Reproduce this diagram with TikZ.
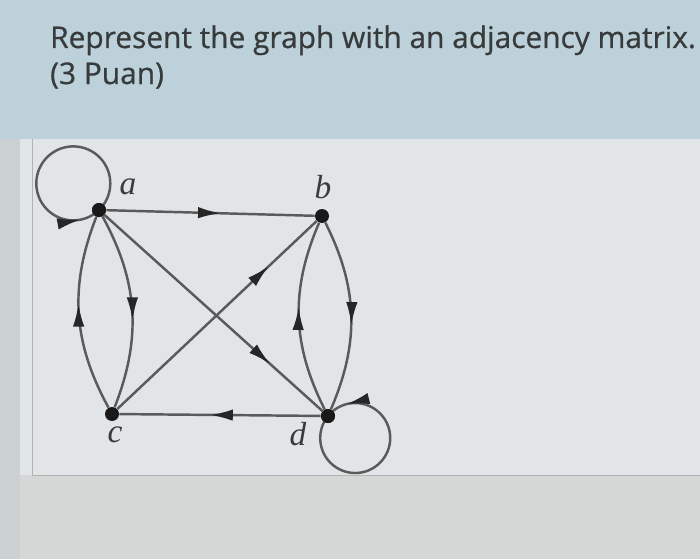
\documentclass[tikz,border=0pt]{standalone}
\usepackage{fontspec}
\setmainfont{Open Sans}
\newfontfamily\titlefont[FakeBold=0.7]{Open Sans}
\newfontfamily\labelfont{Liberation Serif}
\usetikzlibrary{arrows.meta, decorations.markings}

\definecolor{headblue}{HTML}{BCD1D9}
\definecolor{panelgray}{HTML}{E2E5E7}
\definecolor{sidegray}{HTML}{CBD1D3}
\definecolor{footgray}{HTML}{D5D7D7}
\definecolor{edgegray}{HTML}{5A5A5A}
\definecolor{textgray}{HTML}{383B3C}

\begin{document}
\begin{tikzpicture}[x=0.02cm, y=0.02cm,
    vertex/.style={circle, fill=black!90, inner sep=0pt, minimum size=0.28cm},
    vlabel/.style={text=textgray, font=\labelfont\itshape\fontsize{19}{22}\selectfont},
    arc/.style={draw=edgegray, line width=1.4pt},
    midarrow/.style={postaction={decorate}, decoration={markings,
        mark=at position #1 with {\arrow[black!85]{Latex[length=13pt, width=6.5pt]}}}},
    midarrow/.default=0.55]
\useasboundingbox (0,0) rectangle (700,559);

% background
\fill[footgray] (0,0) rectangle (700,559);
\fill[sidegray] (0,0) rectangle (20,559);
\fill[panelgray] (20,84) rectangle (700,420);
\fill[headblue] (0,420) rectangle (700,559);
\draw[gray!60, thin] (32,84) -- (700,84);
\draw[gray!60, thin] (32,84) -- (32,420);

% question
\node[anchor=base west, text=textgray, font=\titlefont\fontsize{17}{20}\selectfont] (title) at (44,511) {Represent the graph with an adjacency matrix.};
\node[anchor=base west, text=textgray, font=\titlefont\fontsize{17}{20}\selectfont] (points) at (44,475) {(3 Puan)};

% vertices
\node[vertex] (a) at (99,349) {};
\node[vertex] (b) at (322,343) {};
\node[vertex] (c) at (112,145) {};
\node[vertex] (d) at (328,143) {};

\node[vlabel] (la) at (128,372) {a};
\node[vlabel] (lb) at (323,372) {b};
\node[vlabel] (lc) at (115,124) {c};
\node[vlabel] (ld) at (298,125) {d};

% edges
\draw[arc, midarrow] (a) -- (b);
\draw[arc, midarrow=0.76] (a) -- (d);
\draw[arc, midarrow=0.76] (c) -- (b);
\draw[arc, midarrow] (d) -- (c);
\draw[arc, midarrow] (a) to[bend left=25] (c);
\draw[arc, midarrow] (c) to[bend left=25] (a);
\draw[arc, midarrow] (b) to[bend left=25] (d);
\draw[arc, midarrow] (d) to[bend left=25] (b);

% loops
\draw[arc, midarrow=0.92] (a.center) arc[start angle=-46, delta angle=355, radius=37];
\draw[arc, midarrow=0.91] (d.center) arc[start angle=141, delta angle=355, radius=35];
\node[vertex] at (a) {};
\node[vertex] at (d) {};

\end{tikzpicture}
\end{document}
